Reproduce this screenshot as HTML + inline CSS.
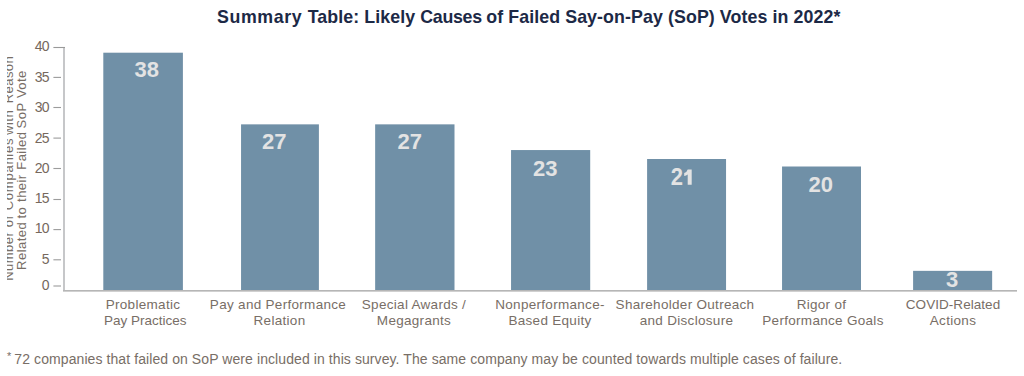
<!DOCTYPE html>
<html><head><meta charset="utf-8">
<style>
html,body{margin:0;padding:0;background:#fff;}
body{width:1024px;height:376px;position:relative;overflow:hidden;font-family:"Liberation Sans",sans-serif;}
.t{position:absolute;white-space:nowrap;}
#title{left:217px;top:7px;font-weight:bold;font-size:17.8px;line-height:20px;letter-spacing:0.09px;color:#1c2946;}
.bar{position:absolute;background:#7090a7;}
.val{position:absolute;font-weight:bold;font-size:22px;color:#e3e3e3;line-height:22px;transform-origin:0 0;}
.yl{position:absolute;font-size:14px;color:#76685d;text-align:right;width:30px;left:18.8px;line-height:13px;letter-spacing:-0.75px;}
.tick{position:absolute;left:53px;width:8px;height:1px;background:#999;}
.cat{position:absolute;font-size:13.5px;color:#786e66;text-align:center;line-height:16px;letter-spacing:0.3px;width:160px;}
#foot{left:7px;top:348px;font-size:14px;line-height:16px;color:#786e66;letter-spacing:0.085px;}
#ytitle{position:absolute;left:7px;top:40px;width:40px;height:260px;overflow:hidden;}
#yt{position:absolute;left:-4.7px;top:245.5px;width:230px;font-size:13px;line-height:13px;color:#786e66;letter-spacing:0.46px;white-space:nowrap;text-align:center;transform-origin:0 0;transform:rotate(-90deg);}
</style></head><body>
<div id="title" class="t"><span style="letter-spacing:0.59px">Summary</span> <span style="position:relative;left:0.5px">Table:</span> <span style="position:relative;left:0.5px">Likely</span> <span style="position:relative;left:0.5px;letter-spacing:-0.31px">Causes</span> of Failed Say-on-Pay (SoP) Votes in 2022*</div>

<div id="ytitle">
 <div id="yt"><span style="position:relative;left:1.3px">Number</span> <span style="position:relative;left:1.8px">of</span> <span style="position:relative;left:2.9px;letter-spacing:0.75px">Companies</span> <span style="position:relative;left:1.7px">with</span> <span style="position:relative;left:4.2px">Reason</span><br><span style="position:relative;left:0.9px">Related</span> <span style="position:relative;left:0.2px">to</span> <span style="position:relative;left:0.9px">their</span> <span style="position:relative;left:1.4px">Failed</span> <span style="position:relative;left:0.5px">SoP</span> <span style="position:relative;left:1px">Vote</span></div>
</div>

<!-- axis -->
<svg style="position:absolute;left:0;top:0" width="1024" height="376">
<rect x="63" y="47" width="2" height="245" fill="#c6c7c9"/>
<rect x="63" y="290" width="954" height="1" fill="#b6b6b6"/>
<rect x="63" y="291" width="954" height="1" fill="#d0d0d0"/>
<rect x="53.4" y="46.95" width="11.6" height="1.1" fill="#999"/>
<rect x="53.4" y="76.85" width="7.6" height="1.1" fill="#9c9c9c"/>
<rect x="53.4" y="106.95" width="7.6" height="1.1" fill="#9c9c9c"/>
<rect x="53.4" y="137.55" width="7.6" height="1.1" fill="#9c9c9c"/>
<rect x="53.4" y="167.95" width="7.6" height="1.1" fill="#9c9c9c"/>
<rect x="53.4" y="198.95" width="7.6" height="1.1" fill="#9c9c9c"/>
<rect x="53.4" y="229.05" width="7.6" height="1.1" fill="#9c9c9c"/>
<rect x="53.4" y="259.25" width="7.6" height="1.1" fill="#9c9c9c"/>
<rect x="53.4" y="285.45" width="7.6" height="1.1" fill="#9c9c9c"/>
</svg>

<div class="yl" style="top:39.7px">40</div>
<div class="yl" style="top:70.5px">35</div>
<div class="yl" style="top:100.7px">30</div>
<div class="yl" style="top:131.7px">25</div>
<div class="yl" style="top:162px">20</div>
<div class="yl" style="top:192.3px">15</div>
<div class="yl" style="top:222.2px">10</div>
<div class="yl" style="top:253.3px">5</div>
<div class="yl" style="top:279px">0</div>


<svg style="position:absolute;left:0;top:0" width="1024" height="376" viewBox="0 0 1024 376">
<rect x="103.3" y="52.7" width="79.6" height="237.3" fill="#7090a7"/>
<rect x="241.05" y="124.35" width="77.85" height="165.65" fill="#7090a7"/>
<rect x="375.15" y="124.35" width="79.35" height="165.65" fill="#7090a7"/>
<rect x="511.05" y="150.05" width="79.15" height="139.95" fill="#7090a7"/>
<rect x="647.1" y="159.0" width="78.95" height="131.0" fill="#7090a7"/>
<rect x="782.05" y="166.5" width="78.95" height="123.5" fill="#7090a7"/>
<rect x="913.1" y="270.85" width="79.05" height="19.15" fill="#7090a7"/>
</svg>
<div class="val" style="left:134.5px;top:59px">38</div>
<div class="val" style="left:262px;top:131px">27</div>
<div class="val" style="left:397.5px;top:131px">27</div>
<div class="val" style="left:533px;top:158px">23</div>
<div class="val" style="left:670.8px;top:165.5px;transform:scaleY(1.06)">2</div>
<svg style="position:absolute;left:0;top:0" width="1024" height="376"><path d="M687.7,169.4 L691.7,169.4 L691.7,184.8 L687.7,184.8 L687.7,174.6 Q686.2,175.7 684.2,176.0 L684.2,172.9 Q686.9,172.2 687.7,169.4 Z" fill="#e3e3e3"/></svg>
<div class="val" style="left:808.5px;top:174px">20</div>
<div class="val" style="left:946px;top:269px">3</div>

<div class="cat" style="left:63px;top:297px">Problematic<br><span style="position:relative;left:2.3px;letter-spacing:0">Pay Practices</span></div>
<div class="cat" style="left:198px;top:297px">Pay and Performance<br><span style="position:relative;left:1.5px">Relation</span></div>
<div class="cat" style="left:334px;top:297px">Special Awards /<br>Megagrants</div>
<div class="cat" style="left:470px;top:297px">Nonperformance-<br>Based Equity</div>
<div class="cat" style="left:605px;top:297px">Shareholder Outreach<br><span style="position:relative;left:1.5px">and Disclosure</span></div>
<div class="cat" style="left:743px;top:297px"><span style="position:relative;left:-1.5px">Rigor of</span><br>Performance Goals</div>
<div class="cat" style="left:873px;top:297px"><span style="letter-spacing:0.05px">COVID-Related</span><br>Actions</div>

<div id="foot" class="t"><span style="font-size:11px;vertical-align:4px;margin-right:-1px">*</span> 72 companies that failed on SoP were included in this survey. The same company may be counted towards multiple cases of failure.</div>
</body></html>
